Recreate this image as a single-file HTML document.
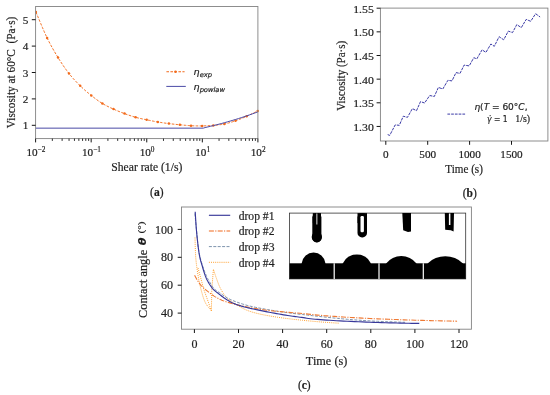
<!DOCTYPE html>
<html><head><meta charset="utf-8"><title>Figure</title>
<style>html,body{margin:0;padding:0;background:#fff}svg{display:block}text{stroke:#1f1f1f;stroke-width:0.2px}text.m{stroke-width:0.1px}</style></head>
<body>
<svg width="550" height="395" viewBox="0 0 550 395">
<rect width="550" height="395" fill="#ffffff"/>
<clipPath id="ca"><rect x="35.6" y="6.5" width="223.79999999999998" height="132.1"/></clipPath>
<g clip-path="url(#ca)">
<path d="M35.90,12.00 L36.77,14.04 L37.92,16.80 L39.29,20.09 L40.82,23.73 L42.43,27.51 L44.06,31.26 L45.64,34.79 L47.10,37.90 L48.48,40.68 L49.84,43.33 L51.21,45.87 L52.56,48.32 L53.92,50.69 L55.28,53.00 L56.63,55.27 L58.00,57.50 L59.37,59.70 L60.74,61.84 L62.11,63.93 L63.48,65.96 L64.86,67.93 L66.23,69.84 L67.61,71.70 L69.00,73.50 L70.39,75.23 L71.79,76.90 L73.19,78.50 L74.59,80.04 L76.00,81.54 L77.40,82.99 L78.80,84.41 L80.20,85.80 L81.59,87.15 L82.98,88.45 L84.37,89.70 L85.76,90.92 L87.14,92.10 L88.53,93.26 L89.91,94.39 L91.30,95.50 L92.69,96.60 L94.08,97.68 L95.46,98.73 L96.85,99.76 L98.24,100.75 L99.62,101.71 L101.01,102.63 L102.40,103.50 L103.79,104.32 L105.18,105.09 L106.57,105.82 L107.96,106.52 L109.34,107.19 L110.73,107.83 L112.12,108.47 L113.50,109.10 L114.88,109.72 L116.25,110.32 L117.63,110.90 L119.00,111.47 L120.37,112.02 L121.75,112.56 L123.12,113.08 L124.50,113.60 L125.88,114.11 L127.27,114.61 L128.66,115.10 L130.04,115.57 L131.43,116.04 L132.82,116.48 L134.21,116.90 L135.60,117.30 L136.99,117.67 L138.38,118.02 L139.76,118.34 L141.15,118.64 L142.54,118.94 L143.92,119.22 L145.31,119.51 L146.70,119.80 L148.09,120.09 L149.47,120.39 L150.86,120.67 L152.25,120.96 L153.64,121.23 L155.03,121.50 L156.41,121.76 L157.80,122.00 L159.19,122.23 L160.58,122.45 L161.97,122.66 L163.36,122.86 L164.74,123.06 L166.13,123.24 L167.52,123.42 L168.90,123.60 L170.28,123.77 L171.65,123.94 L173.03,124.09 L174.40,124.24 L175.77,124.39 L177.15,124.53 L178.52,124.67 L179.90,124.80 L181.28,124.93 L182.67,125.06 L184.06,125.19 L185.44,125.31 L186.83,125.43 L188.22,125.53 L189.61,125.62 L191.00,125.70 L192.39,125.76 L193.77,125.82 L195.16,125.86 L196.54,125.89 L197.93,125.91 L199.32,125.92 L200.71,125.91 L202.10,125.90 L203.50,125.88 L204.90,125.85 L206.30,125.80 L207.70,125.75 L209.10,125.68 L210.50,125.60 L211.90,125.51 L213.30,125.40 L214.69,125.28 L216.08,125.16 L217.47,125.02 L218.86,124.87 L220.24,124.70 L221.63,124.50 L223.01,124.27 L224.40,124.00 L225.79,123.70 L227.18,123.36 L228.56,122.99 L229.95,122.59 L231.34,122.17 L232.72,121.73 L234.11,121.27 L235.50,120.80 L236.89,120.31 L238.28,119.79 L239.66,119.25 L241.05,118.69 L242.44,118.11 L243.82,117.52 L245.21,116.91 L246.60,116.30 L248.06,115.63 L249.64,114.89 L251.25,114.10 L252.84,113.32 L254.35,112.57 L255.71,111.89 L256.84,111.32 L257.70,110.90" fill="none" stroke="#f26a1b" stroke-width="0.95" stroke-dasharray="2.6 1.4"/>
<circle cx="35.90" cy="12.00" r="1.25" fill="#f26a1b"/>
<circle cx="47.10" cy="37.90" r="1.25" fill="#f26a1b"/>
<circle cx="58.00" cy="57.50" r="1.25" fill="#f26a1b"/>
<circle cx="69.00" cy="73.50" r="1.25" fill="#f26a1b"/>
<circle cx="80.20" cy="85.80" r="1.25" fill="#f26a1b"/>
<circle cx="91.30" cy="95.50" r="1.25" fill="#f26a1b"/>
<circle cx="102.40" cy="103.50" r="1.25" fill="#f26a1b"/>
<circle cx="113.50" cy="109.10" r="1.25" fill="#f26a1b"/>
<circle cx="124.50" cy="113.60" r="1.25" fill="#f26a1b"/>
<circle cx="135.60" cy="117.30" r="1.25" fill="#f26a1b"/>
<circle cx="146.70" cy="119.80" r="1.25" fill="#f26a1b"/>
<circle cx="157.80" cy="122.00" r="1.25" fill="#f26a1b"/>
<circle cx="168.90" cy="123.60" r="1.25" fill="#f26a1b"/>
<circle cx="179.90" cy="124.80" r="1.25" fill="#f26a1b"/>
<circle cx="191.00" cy="125.70" r="1.25" fill="#f26a1b"/>
<circle cx="202.10" cy="125.90" r="1.25" fill="#f26a1b"/>
<circle cx="213.30" cy="125.40" r="1.25" fill="#f26a1b"/>
<circle cx="224.40" cy="124.00" r="1.25" fill="#f26a1b"/>
<circle cx="235.50" cy="120.80" r="1.25" fill="#f26a1b"/>
<circle cx="246.60" cy="116.30" r="1.25" fill="#f26a1b"/>
<circle cx="257.70" cy="110.90" r="1.25" fill="#f26a1b"/>
<path d="M35.60,128.15 L203.30,128.15 L205.10,127.57 L207.88,126.93 L210.66,126.26 L213.44,125.58 L216.22,124.88 L219.00,124.17 L221.78,123.43 L224.55,122.67 L227.33,121.89 L230.11,121.10 L232.89,120.28 L235.67,119.43 L238.45,118.57 L241.23,117.68 L244.01,116.77 L246.78,115.84 L249.56,114.87 L252.34,113.89 L255.12,112.88 L257.90,111.84" fill="none" stroke="#4a4aa6" stroke-width="1.0" />
</g>
<rect x="35.60" y="6.50" width="222.30" height="132.10" fill="none" stroke="#828282" stroke-width="0.9"/>
<line x1="35.60" y1="138.60" x2="35.60" y2="142.40" stroke="#151515" stroke-width="1.0" />
<text x="35.90" y="155.5" font-size="11.2" text-anchor="middle" font-family='"Liberation Serif", "DejaVu Serif", serif' fill="#1f1f1f">10<tspan font-size="7.3" dy="-4.0">−2</tspan></text>
<line x1="52.33" y1="138.60" x2="52.33" y2="140.90" stroke="#151515" stroke-width="0.9" />
<line x1="62.12" y1="138.60" x2="62.12" y2="140.90" stroke="#151515" stroke-width="0.9" />
<line x1="69.06" y1="138.60" x2="69.06" y2="140.90" stroke="#151515" stroke-width="0.9" />
<line x1="74.45" y1="138.60" x2="74.45" y2="140.90" stroke="#151515" stroke-width="0.9" />
<line x1="78.85" y1="138.60" x2="78.85" y2="140.90" stroke="#151515" stroke-width="0.9" />
<line x1="82.57" y1="138.60" x2="82.57" y2="140.90" stroke="#151515" stroke-width="0.9" />
<line x1="85.79" y1="138.60" x2="85.79" y2="140.90" stroke="#151515" stroke-width="0.9" />
<line x1="88.63" y1="138.60" x2="88.63" y2="140.90" stroke="#151515" stroke-width="0.9" />
<line x1="91.17" y1="138.60" x2="91.17" y2="142.40" stroke="#151515" stroke-width="1.0" />
<text x="91.47" y="155.5" font-size="11.2" text-anchor="middle" font-family='"Liberation Serif", "DejaVu Serif", serif' fill="#1f1f1f">10<tspan font-size="7.3" dy="-4.0">−1</tspan></text>
<line x1="107.90" y1="138.60" x2="107.90" y2="140.90" stroke="#151515" stroke-width="0.9" />
<line x1="117.69" y1="138.60" x2="117.69" y2="140.90" stroke="#151515" stroke-width="0.9" />
<line x1="124.63" y1="138.60" x2="124.63" y2="140.90" stroke="#151515" stroke-width="0.9" />
<line x1="130.02" y1="138.60" x2="130.02" y2="140.90" stroke="#151515" stroke-width="0.9" />
<line x1="134.42" y1="138.60" x2="134.42" y2="140.90" stroke="#151515" stroke-width="0.9" />
<line x1="138.14" y1="138.60" x2="138.14" y2="140.90" stroke="#151515" stroke-width="0.9" />
<line x1="141.36" y1="138.60" x2="141.36" y2="140.90" stroke="#151515" stroke-width="0.9" />
<line x1="144.21" y1="138.60" x2="144.21" y2="140.90" stroke="#151515" stroke-width="0.9" />
<line x1="146.75" y1="138.60" x2="146.75" y2="142.40" stroke="#151515" stroke-width="1.0" />
<text x="147.05" y="155.5" font-size="11.2" text-anchor="middle" font-family='"Liberation Serif", "DejaVu Serif", serif' fill="#1f1f1f">10<tspan font-size="7.3" dy="-4.0">0</tspan></text>
<line x1="163.48" y1="138.60" x2="163.48" y2="140.90" stroke="#151515" stroke-width="0.9" />
<line x1="173.27" y1="138.60" x2="173.27" y2="140.90" stroke="#151515" stroke-width="0.9" />
<line x1="180.21" y1="138.60" x2="180.21" y2="140.90" stroke="#151515" stroke-width="0.9" />
<line x1="185.60" y1="138.60" x2="185.60" y2="140.90" stroke="#151515" stroke-width="0.9" />
<line x1="190.00" y1="138.60" x2="190.00" y2="140.90" stroke="#151515" stroke-width="0.9" />
<line x1="193.72" y1="138.60" x2="193.72" y2="140.90" stroke="#151515" stroke-width="0.9" />
<line x1="196.94" y1="138.60" x2="196.94" y2="140.90" stroke="#151515" stroke-width="0.9" />
<line x1="199.78" y1="138.60" x2="199.78" y2="140.90" stroke="#151515" stroke-width="0.9" />
<line x1="202.32" y1="138.60" x2="202.32" y2="142.40" stroke="#151515" stroke-width="1.0" />
<text x="202.62" y="155.5" font-size="11.2" text-anchor="middle" font-family='"Liberation Serif", "DejaVu Serif", serif' fill="#1f1f1f">10<tspan font-size="7.3" dy="-4.0">1</tspan></text>
<line x1="219.05" y1="138.60" x2="219.05" y2="140.90" stroke="#151515" stroke-width="0.9" />
<line x1="228.84" y1="138.60" x2="228.84" y2="140.90" stroke="#151515" stroke-width="0.9" />
<line x1="235.78" y1="138.60" x2="235.78" y2="140.90" stroke="#151515" stroke-width="0.9" />
<line x1="241.17" y1="138.60" x2="241.17" y2="140.90" stroke="#151515" stroke-width="0.9" />
<line x1="245.57" y1="138.60" x2="245.57" y2="140.90" stroke="#151515" stroke-width="0.9" />
<line x1="249.29" y1="138.60" x2="249.29" y2="140.90" stroke="#151515" stroke-width="0.9" />
<line x1="252.51" y1="138.60" x2="252.51" y2="140.90" stroke="#151515" stroke-width="0.9" />
<line x1="255.36" y1="138.60" x2="255.36" y2="140.90" stroke="#151515" stroke-width="0.9" />
<line x1="257.90" y1="138.60" x2="257.90" y2="142.40" stroke="#151515" stroke-width="1.0" />
<text x="258.20" y="155.5" font-size="11.2" text-anchor="middle" font-family='"Liberation Serif", "DejaVu Serif", serif' fill="#1f1f1f">10<tspan font-size="7.3" dy="-4.0">2</tspan></text>
<line x1="31.80" y1="125.30" x2="35.60" y2="125.30" stroke="#151515" stroke-width="1.0" />
<text x="28.30" y="129.30" font-size="11.2" text-anchor="end" font-family='"Liberation Serif", "DejaVu Serif", serif' fill="#1f1f1f"  >1</text>
<line x1="31.80" y1="98.90" x2="35.60" y2="98.90" stroke="#151515" stroke-width="1.0" />
<text x="28.30" y="102.90" font-size="11.2" text-anchor="end" font-family='"Liberation Serif", "DejaVu Serif", serif' fill="#1f1f1f"  >2</text>
<line x1="31.80" y1="72.50" x2="35.60" y2="72.50" stroke="#151515" stroke-width="1.0" />
<text x="28.30" y="76.50" font-size="11.2" text-anchor="end" font-family='"Liberation Serif", "DejaVu Serif", serif' fill="#1f1f1f"  >3</text>
<line x1="31.80" y1="46.10" x2="35.60" y2="46.10" stroke="#151515" stroke-width="1.0" />
<text x="28.30" y="50.10" font-size="11.2" text-anchor="end" font-family='"Liberation Serif", "DejaVu Serif", serif' fill="#1f1f1f"  >4</text>
<line x1="31.80" y1="19.70" x2="35.60" y2="19.70" stroke="#151515" stroke-width="1.0" />
<text x="28.30" y="23.70" font-size="11.2" text-anchor="end" font-family='"Liberation Serif", "DejaVu Serif", serif' fill="#1f1f1f"  >5</text>
<text transform="translate(15.30,72.40) rotate(-90)" font-size="12.2" text-anchor="middle" font-family='"Liberation Serif", "DejaVu Serif", serif' fill="#1f1f1f" textLength="111.5" lengthAdjust="spacingAndGlyphs" >Viscosity at 60°C&#160;&#160;(Pa·s)</text>
<text x="146.80" y="171.20" font-size="12.2" text-anchor="middle" font-family='"Liberation Serif", "DejaVu Serif", serif' fill="#1f1f1f"  textLength="71" lengthAdjust="spacingAndGlyphs" >Shear rate (1/s)</text>
<text x="156.8" y="195.7" font-size="11.5" text-anchor="middle" font-family='"Liberation Serif", "DejaVu Serif", serif' fill="#1f1f1f">(<tspan font-weight="bold">a</tspan>)</text>
<path d="M166.40,71.70 L184.60,71.70" fill="none" stroke="#f26a1b" stroke-width="1.1" stroke-dasharray="2.6 1.4"/>
<circle cx="175.5" cy="71.7" r="1.25" fill="#f26a1b"/>
<path d="M166.30,86.40 L185.80,86.40" fill="none" stroke="#4a4aa6" stroke-width="1.0" />
<text x="193.6" y="75.3" font-size="9.5" font-style="italic" font-family='"DejaVu Sans", "Liberation Sans", sans-serif' fill="#1f1f1f">η<tspan font-size="6.7" dy="1.5">exp</tspan></text>
<text x="193.6" y="90.0" font-size="9.5" font-style="italic" font-family='"DejaVu Sans", "Liberation Sans", sans-serif' fill="#1f1f1f">η<tspan font-size="6.7" dy="1.5">powlaw</tspan></text>
<path d="M387.70,134.60 L389.70,135.40 L395.20,124.90 L399.30,125.30 L403.30,116.20 L407.40,117.40 L412.40,108.60 L416.50,110.70 L420.50,101.60 L424.60,103.00 L429.70,95.50 L434.30,96.50 L438.40,87.40 L442.80,89.00 L447.90,80.30 L452.00,80.90 L456.00,72.60 L460.00,73.40 L464.10,65.10 L469.20,65.90 L473.80,57.70 L476.80,58.90 L482.10,49.80 L485.90,52.40 L490.90,44.00 L494.30,46.30 L499.10,36.70 L503.70,39.80 L508.30,31.10 L512.50,32.60 L516.80,24.60 L521.30,27.60 L526.20,19.40 L530.70,21.30 L535.60,13.70 L540.10,17.00" fill="none" stroke="#3a3aa6" stroke-width="1.0" stroke-dasharray="2.9 1.0" stroke-linejoin="round"/>
<rect x="380.40" y="8.10" width="167.50" height="132.90" fill="none" stroke="#828282" stroke-width="0.9"/>
<line x1="385.80" y1="141.00" x2="385.80" y2="144.80" stroke="#151515" stroke-width="1.0" />
<text x="385.80" y="158.10" font-size="11.2" text-anchor="middle" font-family='"Liberation Serif", "DejaVu Serif", serif' fill="#1f1f1f"  >0</text>
<line x1="427.70" y1="141.00" x2="427.70" y2="144.80" stroke="#151515" stroke-width="1.0" />
<text x="427.70" y="158.10" font-size="11.2" text-anchor="middle" font-family='"Liberation Serif", "DejaVu Serif", serif' fill="#1f1f1f"  >500</text>
<line x1="469.60" y1="141.00" x2="469.60" y2="144.80" stroke="#151515" stroke-width="1.0" />
<text x="469.60" y="158.10" font-size="11.2" text-anchor="middle" font-family='"Liberation Serif", "DejaVu Serif", serif' fill="#1f1f1f"  >1000</text>
<line x1="511.50" y1="141.00" x2="511.50" y2="144.80" stroke="#151515" stroke-width="1.0" />
<text x="511.50" y="158.10" font-size="11.2" text-anchor="middle" font-family='"Liberation Serif", "DejaVu Serif", serif' fill="#1f1f1f"  >1500</text>
<line x1="376.60" y1="126.45" x2="380.40" y2="126.45" stroke="#151515" stroke-width="1.0" />
<text x="373.80" y="130.85" font-size="11.2" text-anchor="end" font-family='"Liberation Serif", "DejaVu Serif", serif' fill="#1f1f1f"  textLength="20.6" lengthAdjust="spacingAndGlyphs" >1.30</text>
<line x1="376.60" y1="102.80" x2="380.40" y2="102.80" stroke="#151515" stroke-width="1.0" />
<text x="373.80" y="107.20" font-size="11.2" text-anchor="end" font-family='"Liberation Serif", "DejaVu Serif", serif' fill="#1f1f1f"  textLength="20.6" lengthAdjust="spacingAndGlyphs" >1.35</text>
<line x1="376.60" y1="79.15" x2="380.40" y2="79.15" stroke="#151515" stroke-width="1.0" />
<text x="373.80" y="83.55" font-size="11.2" text-anchor="end" font-family='"Liberation Serif", "DejaVu Serif", serif' fill="#1f1f1f"  textLength="20.6" lengthAdjust="spacingAndGlyphs" >1.40</text>
<line x1="376.60" y1="55.50" x2="380.40" y2="55.50" stroke="#151515" stroke-width="1.0" />
<text x="373.80" y="59.90" font-size="11.2" text-anchor="end" font-family='"Liberation Serif", "DejaVu Serif", serif' fill="#1f1f1f"  textLength="20.6" lengthAdjust="spacingAndGlyphs" >1.45</text>
<line x1="376.60" y1="31.85" x2="380.40" y2="31.85" stroke="#151515" stroke-width="1.0" />
<text x="373.80" y="36.25" font-size="11.2" text-anchor="end" font-family='"Liberation Serif", "DejaVu Serif", serif' fill="#1f1f1f"  textLength="20.6" lengthAdjust="spacingAndGlyphs" >1.50</text>
<line x1="376.60" y1="8.20" x2="380.40" y2="8.20" stroke="#151515" stroke-width="1.0" />
<text x="373.80" y="12.60" font-size="11.2" text-anchor="end" font-family='"Liberation Serif", "DejaVu Serif", serif' fill="#1f1f1f"  textLength="20.6" lengthAdjust="spacingAndGlyphs" >1.55</text>
<text transform="translate(345.20,75.80) rotate(-90)" font-size="12.2" text-anchor="middle" font-family='"Liberation Serif", "DejaVu Serif", serif' fill="#1f1f1f" textLength="70" lengthAdjust="spacingAndGlyphs" >Viscosity (Pa·s)</text>
<text x="464.10" y="172.80" font-size="12.2" text-anchor="middle" font-family='"Liberation Serif", "DejaVu Serif", serif' fill="#1f1f1f"  textLength="37.6" lengthAdjust="spacingAndGlyphs" >Time (s)</text>
<text x="469.8" y="197.0" font-size="11.5" text-anchor="middle" font-family='"Liberation Serif", "DejaVu Serif", serif' fill="#1f1f1f">(<tspan font-weight="bold">b</tspan>)</text>
<path d="M447.40,114.10 L465.10,114.10" fill="none" stroke="#3a3aa6" stroke-width="1.0" stroke-dasharray="2.7 1.05"/>
<text x="474.4" y="110" font-size="9" font-family='"DejaVu Sans", "Liberation Sans", sans-serif' fill="#1f1f1f"><tspan font-style="italic">η</tspan>(<tspan font-style="italic">T</tspan> = 60°<tspan font-style="italic">C</tspan>,</text>
<text x="487" y="122" font-size="9" font-family='"DejaVu Sans", "Liberation Sans", sans-serif' fill="#1f1f1f" textLength="20.6" lengthAdjust="spacingAndGlyphs"><tspan font-style="italic">γ̇</tspan> = 1</text>
<text x="515.3" y="122.1" font-size="9.8" font-family='"Liberation Serif", "DejaVu Serif", serif' fill="#1f1f1f">1/s)</text>
<clipPath id="cc"><rect x="181.5" y="207.0" width="289.9" height="122.19999999999999"/></clipPath>
<g clip-path="url(#cc)">
<path d="M195.00,237.50 L195.05,239.11 L195.11,241.26 L195.17,243.82 L195.25,246.66 L195.35,249.65 L195.47,252.64 L195.62,255.50 L195.80,258.10 L196.02,260.52 L196.27,262.91 L196.55,265.28 L196.86,267.60 L197.18,269.87 L197.51,272.09 L197.86,274.23 L198.20,276.30 L198.55,278.28 L198.90,280.18 L199.27,282.01 L199.65,283.78 L200.04,285.50 L200.45,287.19 L200.86,288.85 L201.30,290.50 L201.74,292.14 L202.19,293.77 L202.64,295.37 L203.11,296.93 L203.61,298.45 L204.13,299.91 L204.69,301.29 L205.30,302.60 L206.00,303.86 L206.82,305.10 L207.70,306.29 L208.60,307.41 L209.47,308.43 L210.25,309.34 L210.92,310.10 L211.40,310.70" fill="none" stroke="#ffa030" stroke-width="1.0" stroke-dasharray="1 1.1"/>
<path d="M198.00,268.00 L204.00,290.00 L211.40,310.70" fill="none" stroke="#ffa030" stroke-width="1.0" stroke-dasharray="1 1.1"/>
<path d="M211.40,310.70 L211.80,290.00 L213.40,269.20 L213.62,269.89 L213.91,270.81 L214.26,271.90 L214.64,273.11 L215.06,274.41 L215.50,275.73 L215.95,277.05 L216.40,278.30 L216.85,279.53 L217.30,280.80 L217.77,282.09 L218.26,283.40 L218.77,284.71 L219.31,286.00 L219.88,287.27 L220.50,288.50 L221.15,289.71 L221.84,290.93 L222.55,292.13 L223.30,293.31 L224.08,294.46 L224.89,295.57 L225.73,296.62 L226.60,297.60 L227.49,298.49 L228.39,299.30 L229.32,300.05 L230.27,300.76 L231.28,301.44 L232.35,302.13 L233.48,302.84 L234.70,303.60 L236.01,304.41 L237.39,305.27 L238.85,306.14 L240.37,307.02 L241.93,307.88 L243.53,308.71 L245.16,309.49 L246.80,310.20 L248.44,310.84 L250.09,311.42 L251.76,311.96 L253.47,312.46 L255.23,312.93 L257.06,313.39 L258.98,313.84 L261.00,314.30 L263.14,314.76 L265.39,315.20 L267.73,315.64 L270.14,316.06 L272.59,316.46 L275.07,316.86 L277.54,317.24 L280.00,317.60 L282.45,317.95 L284.93,318.28 L287.43,318.59 L289.94,318.89 L292.46,319.18 L294.98,319.46 L297.49,319.73 L300.00,320.00 L302.51,320.27 L305.03,320.52 L307.56,320.78 L310.08,321.02 L312.60,321.25 L315.09,321.48 L317.56,321.69 L320.00,321.90 L322.53,322.10 L325.20,322.30 L327.93,322.49 L330.60,322.67 L333.11,322.83 L335.37,322.98 L337.27,323.10 L338.70,323.20" fill="none" stroke="#ffa030" stroke-width="1.0" stroke-dasharray="1 1.1"/>
<path d="M194.90,213.50 L195.00,214.57 L195.13,215.93 L195.28,217.55 L195.46,219.38 L195.65,221.38 L195.85,223.51 L196.07,225.73 L196.30,228.00 L196.54,230.45 L196.79,233.16 L197.05,236.05 L197.33,239.03 L197.62,242.01 L197.93,244.89 L198.25,247.58 L198.60,250.00 L198.97,252.15 L199.36,254.13 L199.77,255.97 L200.19,257.69 L200.63,259.32 L201.08,260.90 L201.54,262.45 L202.00,264.00 L202.48,265.56 L203.00,267.11 L203.53,268.63 L204.07,270.09 L204.60,271.48 L205.11,272.77 L205.58,273.95 L206.00,275.00 L206.35,275.85 L206.61,276.50 L206.84,277.00 L207.04,277.43 L207.26,277.84 L207.53,278.30 L207.86,278.86 L208.30,279.60 L208.84,280.53 L209.47,281.62 L210.15,282.80 L210.89,284.04 L211.65,285.27 L212.44,286.46 L213.23,287.55 L214.00,288.50 L214.77,289.29 L215.55,289.98 L216.33,290.59 L217.14,291.14 L217.95,291.67 L218.79,292.18 L219.63,292.72 L220.50,293.30 L221.37,293.92 L222.25,294.55 L223.13,295.20 L224.03,295.84 L224.96,296.47 L225.93,297.10 L226.94,297.71 L228.00,298.30 L229.11,298.87 L230.26,299.42 L231.44,299.95 L232.66,300.48 L233.93,300.99 L235.24,301.50 L236.59,302.00 L238.00,302.50 L239.43,302.99 L240.88,303.48 L242.35,303.96 L243.88,304.43 L245.48,304.90 L247.17,305.37 L248.97,305.83 L250.90,306.30 L252.98,306.77 L255.22,307.25 L257.57,307.73 L260.01,308.20 L262.50,308.67 L265.02,309.13 L267.53,309.57 L270.00,310.00 L272.46,310.41 L274.94,310.81 L277.43,311.20 L279.94,311.58 L282.46,311.95 L284.98,312.31 L287.49,312.66 L290.00,313.00 L292.50,313.33 L295.00,313.65 L297.50,313.95 L300.00,314.25 L302.50,314.54 L305.00,314.83 L307.50,315.11 L310.00,315.40 L312.50,315.69 L315.00,315.97 L317.50,316.25 L320.00,316.53 L322.50,316.81 L325.00,317.08 L327.50,317.34 L330.00,317.60 L332.50,317.86 L335.00,318.11 L337.50,318.36 L340.00,318.60 L342.50,318.84 L345.00,319.07 L347.50,319.29 L350.00,319.50 L352.50,319.70 L355.00,319.90 L357.50,320.08 L360.00,320.26 L362.50,320.43 L365.00,320.60 L367.50,320.75 L370.00,320.90 L372.53,321.04 L375.12,321.17 L377.72,321.29 L380.31,321.41 L382.87,321.51 L385.35,321.61 L387.74,321.71 L390.00,321.80 L392.22,321.89 L394.45,321.96 L396.65,322.04 L398.75,322.11 L400.69,322.17 L402.42,322.22 L403.88,322.26 L405.00,322.30" fill="none" stroke="#7d93ad" stroke-width="1.0" stroke-dasharray="3 1.4"/>
<path d="M194.60,275.30 L195.00,276.00 L195.50,276.94 L196.09,278.05 L196.76,279.28 L197.52,280.59 L198.35,281.91 L199.24,283.20 L200.20,284.40 L201.26,285.56 L202.43,286.75 L203.69,287.94 L205.02,289.14 L206.38,290.31 L207.75,291.44 L209.10,292.51 L210.40,293.50 L211.65,294.42 L212.89,295.29 L214.11,296.10 L215.33,296.87 L216.57,297.60 L217.84,298.29 L219.14,298.96 L220.50,299.60 L221.87,300.20 L223.24,300.75 L224.62,301.25 L226.04,301.73 L227.52,302.18 L229.09,302.64 L230.78,303.11 L232.60,303.60 L234.59,304.12 L236.72,304.65 L238.97,305.18 L241.31,305.72 L243.71,306.25 L246.12,306.76 L248.53,307.24 L250.90,307.70 L253.17,308.12 L255.36,308.51 L257.52,308.88 L259.72,309.24 L262.00,309.58 L264.44,309.92 L267.09,310.26 L270.00,310.60 L273.30,310.95 L276.97,311.31 L280.89,311.66 L284.94,312.01 L289.00,312.35 L292.95,312.68 L296.65,313.00 L300.00,313.30 L302.98,313.59 L305.70,313.86 L308.23,314.12 L310.62,314.38 L312.94,314.62 L315.23,314.85 L317.57,315.08 L320.00,315.30 L322.43,315.51 L324.77,315.71 L327.06,315.89 L329.38,316.07 L331.77,316.24 L334.30,316.42 L337.02,316.61 L340.00,316.80 L343.27,317.01 L346.80,317.22 L350.52,317.44 L354.38,317.67 L358.31,317.89 L362.27,318.11 L366.18,318.31 L370.00,318.50 L373.75,318.68 L377.50,318.84 L381.25,319.00 L385.00,319.15 L388.75,319.29 L392.50,319.43 L396.25,319.57 L400.00,319.70 L403.77,319.83 L407.57,319.95 L411.38,320.07 L415.18,320.19 L418.96,320.30 L422.70,320.40 L426.39,320.50 L430.00,320.60 L433.71,320.69 L437.61,320.79 L441.57,320.87 L445.43,320.96 L449.05,321.03 L452.30,321.10 L455.03,321.16 L457.10,321.20" fill="none" stroke="#ef7a35" stroke-width="1.1" stroke-dasharray="5 1.3 1.2 1.3"/>
<path d="M195.20,211.80 L195.30,213.35 L195.42,215.39 L195.57,217.82 L195.74,220.53 L195.93,223.41 L196.13,226.35 L196.36,229.25 L196.60,232.00 L196.86,234.73 L197.15,237.60 L197.47,240.55 L197.79,243.50 L198.14,246.39 L198.49,249.15 L198.84,251.71 L199.20,254.00 L199.56,255.99 L199.92,257.74 L200.29,259.30 L200.66,260.72 L201.05,262.06 L201.45,263.39 L201.87,264.75 L202.30,266.20 L202.74,267.73 L203.19,269.28 L203.64,270.84 L204.11,272.39 L204.61,273.92 L205.13,275.42 L205.69,276.89 L206.30,278.30 L206.96,279.68 L207.68,281.06 L208.43,282.41 L209.22,283.73 L210.02,284.99 L210.83,286.18 L211.62,287.29 L212.40,288.30 L213.16,289.19 L213.93,289.97 L214.70,290.67 L215.47,291.29 L216.23,291.88 L217.00,292.44 L217.75,293.01 L218.50,293.60 L219.28,294.23 L220.11,294.89 L220.95,295.54 L221.78,296.18 L222.56,296.78 L223.26,297.31 L223.85,297.76 L224.30,298.10 L224.58,298.27 L224.93,298.50 L225.35,298.77 L225.83,299.07 L226.34,299.40 L226.88,299.74 L227.44,300.07 L228.00,300.40 L228.56,300.73 L229.13,301.06 L229.73,301.41 L230.34,301.77 L230.99,302.13 L231.68,302.49 L232.42,302.85 L233.20,303.20 L234.03,303.55 L234.91,303.90 L235.82,304.26 L236.77,304.61 L237.77,304.96 L238.81,305.31 L239.88,305.66 L241.00,306.00 L242.12,306.33 L243.24,306.64 L244.37,306.94 L245.56,307.24 L246.82,307.55 L248.20,307.88 L249.71,308.22 L251.40,308.60 L253.29,309.01 L255.38,309.46 L257.62,309.93 L259.96,310.41 L262.37,310.90 L264.79,311.38 L267.18,311.85 L269.50,312.30 L271.81,312.73 L274.18,313.17 L276.58,313.60 L278.96,314.02 L281.30,314.43 L283.56,314.82 L285.71,315.18 L287.70,315.50 L289.50,315.78 L291.13,316.02 L292.63,316.23 L294.05,316.43 L295.45,316.61 L296.87,316.79 L298.37,316.98 L300.00,317.20 L301.68,317.44 L303.33,317.69 L304.99,317.94 L306.71,318.20 L308.52,318.46 L310.48,318.71 L312.63,318.96 L315.00,319.20 L317.61,319.43 L320.43,319.66 L323.42,319.88 L326.56,320.09 L329.82,320.30 L333.16,320.51 L336.57,320.71 L340.00,320.90 L343.51,321.08 L347.15,321.26 L350.88,321.43 L354.69,321.60 L358.53,321.76 L362.38,321.91 L366.22,322.06 L370.00,322.20 L373.82,322.34 L377.75,322.47 L381.72,322.59 L385.67,322.71 L389.53,322.82 L393.25,322.93 L396.76,323.02 L400.00,323.10 L403.06,323.17 L406.03,323.22 L408.87,323.27 L411.52,323.31 L413.95,323.34 L416.08,323.36 L417.88,323.38 L419.30,323.40" fill="none" stroke="#38389a" stroke-width="1.15" stroke-linejoin="round"/>
</g>
<rect x="181.50" y="207.00" width="289.90" height="122.20" fill="none" stroke="#828282" stroke-width="0.9"/>
<line x1="194.40" y1="329.20" x2="194.40" y2="333.00" stroke="#151515" stroke-width="1.0" />
<text x="194.40" y="347.90" font-size="12.0" text-anchor="middle" font-family='"Liberation Serif", "DejaVu Serif", serif' fill="#1f1f1f"  >0</text>
<line x1="238.50" y1="329.20" x2="238.50" y2="333.00" stroke="#151515" stroke-width="1.0" />
<text x="238.50" y="347.90" font-size="12.0" text-anchor="middle" font-family='"Liberation Serif", "DejaVu Serif", serif' fill="#1f1f1f"  >20</text>
<line x1="282.60" y1="329.20" x2="282.60" y2="333.00" stroke="#151515" stroke-width="1.0" />
<text x="282.60" y="347.90" font-size="12.0" text-anchor="middle" font-family='"Liberation Serif", "DejaVu Serif", serif' fill="#1f1f1f"  >40</text>
<line x1="326.70" y1="329.20" x2="326.70" y2="333.00" stroke="#151515" stroke-width="1.0" />
<text x="326.70" y="347.90" font-size="12.0" text-anchor="middle" font-family='"Liberation Serif", "DejaVu Serif", serif' fill="#1f1f1f"  >60</text>
<line x1="370.80" y1="329.20" x2="370.80" y2="333.00" stroke="#151515" stroke-width="1.0" />
<text x="370.80" y="347.90" font-size="12.0" text-anchor="middle" font-family='"Liberation Serif", "DejaVu Serif", serif' fill="#1f1f1f"  >80</text>
<line x1="414.90" y1="329.20" x2="414.90" y2="333.00" stroke="#151515" stroke-width="1.0" />
<text x="414.90" y="347.90" font-size="12.0" text-anchor="middle" font-family='"Liberation Serif", "DejaVu Serif", serif' fill="#1f1f1f"  >100</text>
<line x1="459.00" y1="329.20" x2="459.00" y2="333.00" stroke="#151515" stroke-width="1.0" />
<text x="459.00" y="347.90" font-size="12.0" text-anchor="middle" font-family='"Liberation Serif", "DejaVu Serif", serif' fill="#1f1f1f"  >120</text>
<line x1="177.70" y1="313.10" x2="181.50" y2="313.10" stroke="#151515" stroke-width="1.0" />
<text x="172.90" y="317.20" font-size="12.0" text-anchor="end" font-family='"Liberation Serif", "DejaVu Serif", serif' fill="#1f1f1f"  >40</text>
<line x1="177.70" y1="285.20" x2="181.50" y2="285.20" stroke="#151515" stroke-width="1.0" />
<text x="172.90" y="289.30" font-size="12.0" text-anchor="end" font-family='"Liberation Serif", "DejaVu Serif", serif' fill="#1f1f1f"  >60</text>
<line x1="177.70" y1="257.30" x2="181.50" y2="257.30" stroke="#151515" stroke-width="1.0" />
<text x="172.90" y="261.40" font-size="12.0" text-anchor="end" font-family='"Liberation Serif", "DejaVu Serif", serif' fill="#1f1f1f"  >80</text>
<line x1="177.70" y1="229.40" x2="181.50" y2="229.40" stroke="#151515" stroke-width="1.0" />
<text x="172.90" y="233.50" font-size="12.0" text-anchor="end" font-family='"Liberation Serif", "DejaVu Serif", serif' fill="#1f1f1f"  >100</text>
<text transform="translate(146.6,317.9) rotate(-90)" font-size="12.2" font-family='"Liberation Serif", "DejaVu Serif", serif' fill="#1f1f1f" textLength="68" lengthAdjust="spacingAndGlyphs">Contact angle</text>
<text transform="translate(146.4,245.2) rotate(-90)" font-size="11.2" font-family='"DejaVu Sans", "Liberation Sans", sans-serif' font-style="italic" font-weight="bold" fill="#1f1f1f" class="m">θ</text>
<text transform="translate(144.2,233.6) rotate(-90)" font-size="9.2" font-family='"Liberation Serif", "DejaVu Serif", serif' fill="#1f1f1f" textLength="12" lengthAdjust="spacingAndGlyphs">(°)</text>
<text x="326.60" y="365.20" font-size="12.2" text-anchor="middle" font-family='"Liberation Serif", "DejaVu Serif", serif' fill="#1f1f1f"  textLength="41.5" lengthAdjust="spacingAndGlyphs" >Time (s)</text>
<text x="304.3" y="388.9" font-size="11.5" text-anchor="middle" font-family='"Liberation Serif", "DejaVu Serif", serif' fill="#1f1f1f">(<tspan font-weight="bold">c</tspan>)</text>
<path d="M208.90,215.30 L230.20,215.30" fill="none" stroke="#38389a" stroke-width="1.15" />
<path d="M208.90,231.00 L230.20,231.00" fill="none" stroke="#f59a68" stroke-width="1.5" stroke-dasharray="5 1.3 1.2 1.3"/>
<path d="M208.90,246.60 L230.20,246.60" fill="none" stroke="#7d93ad" stroke-width="1.0" stroke-dasharray="3 1.4"/>
<path d="M208.90,262.30 L230.20,262.30" fill="none" stroke="#ffa030" stroke-width="1.0" stroke-dasharray="1 1.1"/>
<text x="238.70" y="219.60" font-size="12.2" text-anchor="start" font-family='"Liberation Serif", "DejaVu Serif", serif' fill="#1f1f1f"  textLength="35.8" lengthAdjust="spacingAndGlyphs" >drop #1</text>
<text x="238.70" y="235.30" font-size="12.2" text-anchor="start" font-family='"Liberation Serif", "DejaVu Serif", serif' fill="#1f1f1f"  textLength="35.8" lengthAdjust="spacingAndGlyphs" >drop #2</text>
<text x="238.70" y="250.90" font-size="12.2" text-anchor="start" font-family='"Liberation Serif", "DejaVu Serif", serif' fill="#1f1f1f"  textLength="35.8" lengthAdjust="spacingAndGlyphs" >drop #3</text>
<text x="238.70" y="266.60" font-size="12.2" text-anchor="start" font-family='"Liberation Serif", "DejaVu Serif", serif' fill="#1f1f1f"  textLength="35.8" lengthAdjust="spacingAndGlyphs" >drop #4</text>
<rect x="289.5" y="213.1" width="176.20" height="65.80" fill="#fff" stroke="#333" stroke-width="0.8"/>
<rect x="289.5" y="263.3" width="176.20" height="15.60" fill="#000"/>
<line x1="334.20" y1="263.30" x2="334.20" y2="278.90" stroke="#fff" stroke-width="1.2" />
<line x1="379.00" y1="263.30" x2="379.00" y2="278.90" stroke="#fff" stroke-width="1.2" />
<line x1="423.30" y1="263.30" x2="423.30" y2="278.90" stroke="#fff" stroke-width="1.2" />
<path d="M301.60,264.4 L301.60,263.4 A12.01,12.01 0 0 1 325.50,263.4 L325.50,264.4 Z" fill="#000"/>
<path d="M342.70,264.4 L342.70,263.4 A15.78,15.78 0 0 1 371.00,263.4 L371.00,264.4 Z" fill="#000"/>
<path d="M386.10,264.4 L386.10,263.4 A19.31,19.31 0 0 1 416.50,263.4 L416.50,264.4 Z" fill="#000"/>
<path d="M427.60,264.4 L427.60,263.4 A25.36,25.36 0 0 1 463.00,263.4 L463.00,264.4 Z" fill="#000"/>
<rect x="312.3" y="213.1" width="9.1" height="29.3" rx="4.5" ry="4.5" fill="#000"/>
<rect x="312.8" y="213.1" width="8.2" height="10" fill="#000"/>
<ellipse cx="316.85" cy="237.0" rx="5.15" ry="5.2" fill="#000"/>
<rect x="316.3" y="213.5" width="1.1" height="11" fill="#ccc"/>
<rect x="357.5" y="213.1" width="9.5" height="24.3" rx="4.5" ry="4.5" fill="#000"/>
<rect x="357.5" y="213.1" width="9.5" height="10" fill="#000"/>
<rect x="360.5" y="216" width="3.4" height="16.3" rx="1.2" fill="#fff"/>
<path d="M402.3,213.1 L411,213.1 L411,231.5 L408,232 L403.2,230.2 Z" fill="#000"/>
<path d="M444.8,213.1 L454,213.1 L453.6,231.6 L450.8,230.2 L445.2,229.8 Z" fill="#000"/>
<rect x="448.9" y="213.5" width="1.5" height="11.5" fill="#fff"/>
</svg>
</body></html>
